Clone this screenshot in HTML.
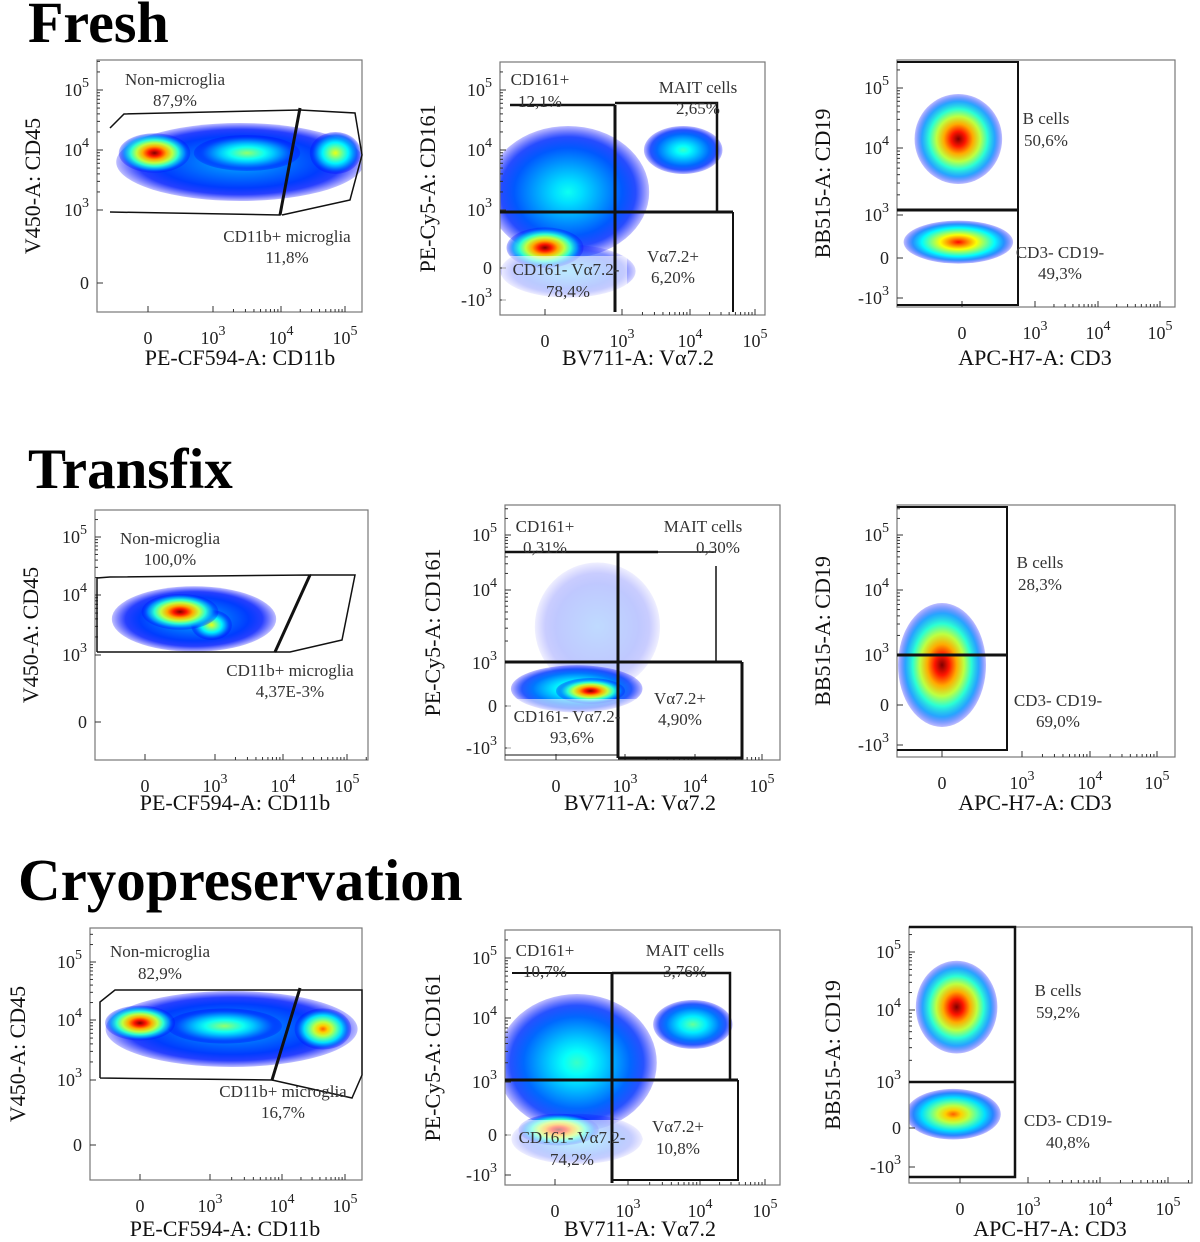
<!DOCTYPE html>
<html><head><meta charset="utf-8"><style>
html,body{margin:0;padding:0;background:#fff;}
svg{display:block;font-family:"Liberation Serif",serif;}
</style></head><body>
<svg id="fig" width="1200" height="1242" viewBox="0 0 1200 1242" xmlns="http://www.w3.org/2000/svg">
<defs id="defs"></defs>
<text x="28" y="42" font-size="58" font-weight="bold">Fresh</text>
<text x="28" y="488" font-size="57" font-weight="bold">Transfix</text>
<text x="18" y="900" font-size="59" font-weight="bold">Cryopreservation</text>
</svg>
<script>
// ---- population data (units: 0=0, 1=10^3, 2=10^4, 3=10^5, -1=-10^3) : [x, y, spreadX, spreadY, peakDensity, opacity]
const popsFresh1 = [[1.4,1.8,1.9,0.65,0.2,1],[1.5,1.95,0.8,0.3,0.45,1],[2.85,1.95,0.4,0.35,0.55,1],[0.1,1.95,0.55,0.33,1.0,1]];
const popsFresh2 = [[0.3,1.3,1.1,1.1,0.3,1],[1.9,2.0,0.6,0.4,0.35,1],[0.3,-0.1,0.9,0.5,0.2,0.6],[0.0,0.35,0.5,0.35,1.0,1]];
const popsFresh3 = [[-0.05,2.15,0.6,0.75,1.0,1],[-0.05,0.37,0.75,0.5,0.85,1]];
const popsTransfix1 = [[0.7,1.6,1.2,0.55,0.2,1],[0.95,1.5,0.3,0.25,0.55,1],[0.5,1.72,0.55,0.3,1.0,1]];
const popsTransfix2 = [[0.6,1.5,0.9,1.0,0.12,0.25],[0.3,0.4,0.95,0.55,0.4,1],[0.5,0.35,0.5,0.3,1.0,1]];
const popsTransfix3 = [[0.0,0.8,0.55,1.0,1.0,1]];
const popsCryo1 = [[1.3,1.85,1.9,0.65,0.2,1],[1.2,1.9,0.8,0.3,0.45,1],[2.65,1.85,0.45,0.35,0.75,1],[0.0,1.95,0.5,0.3,1.0,1]];
const popsCryo2 = [[0.3,1.3,1.1,1.1,0.35,1],[1.9,1.9,0.6,0.4,0.4,1],[0.3,-0.1,0.9,0.5,0.25,0.6],[0.05,0.1,0.55,0.3,1.0,1]];
const popsCryo3 = [[-0.05,2.05,0.6,0.8,1.0,1],[-0.1,0.3,0.7,0.55,0.75,1]];
// gate percentages
const pctFresh = ["87,9%","11,8%","12,1%","2,65%","78,4%","6,20%","50,6%","49,3%"];
const pctTransfix = ["100,0%","4,37E-3%","0,31%","0,30%","93,6%","4,90%","28,3%","69,0%"];
const pctCryo = ["82,9%","16,7%","10,7%","3,76%","74,2%","10,8%","59,2%","40,8%"];
const xTickLabels = ["0","10|3","10|4","10|5"];
const yTickLabels = ["-10|3","0","10|3","10|4","10|5"];

const NS="http://www.w3.org/2000/svg";
const svg=document.getElementById('fig');
const defs=document.getElementById('defs');
function el(tag,attrs,parent){const e=document.createElementNS(NS,tag);for(const k in attrs)e.setAttribute(k,attrs[k]);(parent||svg).appendChild(e);return e;}
function interp(px,v,start){
  const n=px.length;let i=Math.floor(v-start);if(i<0)i=0;if(i>n-2)i=n-2;
  return px[i]+(v-start-i)*(px[i+1]-px[i]);}
function jet(t){t=0.125+0.875*t;const c=x=>Math.round(255*Math.max(0,Math.min(1,1.5-Math.abs(x))));return `rgb(${c(4*t-3)},${c(4*t-2)},${c(4*t-1)})`;}
let gid=0;

const panels=[
 {box:[97,60,362,312],xt:[148,213,281,345],yt:[null,283,210,150,90],pops:popsFresh1,type:1,pct:pctFresh,ytx:40,xtc:240,xty:365,
  gates:[{pts:"110,128 124,114 300,110 280,215 110,212",w:1.5},{pts:"300,110 355,113 362,155 350,200 282,215",w:1.5},{pts:"300,108 280,215",w:3}],
  lab:[[175,85],[175,106],[287,242],[287,263]]},
 {box:[500,62,765,315],xt:[545,622,690,755],yt:[300,268,210,150,90],pops:popsFresh2,type:2,pct:pctFresh,ytx:435,xtc:638,xty:365,
  gates:[{pts:"615,105 615,312",w:3},{pts:"500,212 733,212",w:3},{pts:"510,105 615,105",w:2.5},{pts:"615,103 717,103 717,212",w:2.5},{pts:"733,212 733,312",w:2}],
  lab:[[540,85],[540,107],[698,93],[698,114],[566,275],[568,297],[673,262],[673,283]],bgl:[502,256,125,48]},
 {box:[897,60,1175,307],xt:[962,1035,1098,1160],yt:[298,258,215,148,88],pops:popsFresh3,type:3,pct:pctFresh,ytx:830,xtc:1035,xty:365,
  gates:[{pts:"897,62 1018,62 1018,305 897,305",w:2},{pts:"897,210 1018,210",w:3}],
  lab:[[1046,124],[1046,146],[1060,258],[1060,279]]},
 {box:[95,510,368,760],xt:[145,215,283,347],yt:[null,722,655,595,537],pops:popsTransfix1,type:1,pct:pctTransfix,ytx:38,xtc:235,xty:810,
  gates:[{pts:"97,652 97,578 110,577 310,575 275,652 97,652",w:1.5},{pts:"310,575 355,575 342,640 290,652 275,652",w:1.5},{pts:"310,575 275,652",w:3}],
  lab:[[170,544],[170,565],[290,676],[290,697]]},
 {box:[505,505,780,760],xt:[556,625,695,762],yt:[748,706,663,590,535],pops:popsTransfix2,type:2,pct:pctTransfix,ytx:440,xtc:640,xty:810,
  gates:[{pts:"618,552 618,758",w:3},{pts:"505,662 742,662",w:3},{pts:"505,552 658,552",w:2.5},{pts:"618,552 716,552",w:1.5},{pts:"716,566 716,662",w:1.5},{pts:"742,662 742,758 618,758",w:3},{pts:"505,755 618,755",w:1}],
  lab:[[545,532],[545,553],[703,532],[718,553],[567,722],[572,743],[680,704],[680,725]],bgl:[507,699,140,52]},
 {box:[897,505,1175,757],xt:[942,1022,1090,1157],yt:[745,705,655,590,535],pops:popsTransfix3,type:3,pct:pctTransfix,ytx:830,xtc:1035,xty:810,
  gates:[{pts:"897,507 1007,507 1007,750 897,750",w:2},{pts:"897,655 1007,655",w:3}],
  lab:[[1040,568],[1040,590],[1058,706],[1058,727]]},
 {box:[90,928,362,1180],xt:[140,210,282,345],yt:[null,1145,1080,1020,962],pops:popsCryo1,type:1,pct:pctCryo,ytx:25,xtc:225,xty:1236,
  gates:[{pts:"100,1078 100,1002 115,990 300,990 272,1080 100,1078",w:1.5},{pts:"300,990 362,990 362,1075 352,1098 272,1080",w:1.5},{pts:"300,988 272,1080",w:3}],
  lab:[[160,957],[160,979],[283,1097],[283,1118]]},
 {box:[505,930,780,1185],xt:[555,628,700,765],yt:[1175,1135,1082,1018,958],pops:popsCryo2,type:2,pct:pctCryo,ytx:440,xtc:640,xty:1236,
  gates:[{pts:"612,973 612,1183",w:3},{pts:"505,1080 738,1080",w:3},{pts:"512,973 612,973",w:2},{pts:"612,973 730,973 730,1080",w:2.5},{pts:"738,1080 738,1180 612,1180",w:2}],
  lab:[[545,956],[545,977],[685,956],[685,977],[572,1143],[572,1165],[678,1132],[678,1154]],bgl:[507,1120,135,50]},
 {box:[909,927,1192,1183],xt:[960,1028,1100,1168],yt:[1167,1128,1082,1010,952],pops:popsCryo3,type:3,pct:pctCryo,ytx:840,xtc:1050,xty:1236,
  gates:[{pts:"909,927 1015,927 1015,1177 909,1177",w:2.5},{pts:"909,1082 1015,1082",w:2.5}],
  lab:[[1058,996],[1058,1018],[1068,1126],[1068,1148]]}
];
const titles={1:["V450-A: CD45","PE-CF594-A: CD11b"],2:["PE-Cy5-A: CD161","BV711-A: V\u03b17.2"],3:["BB515-A: CD19","APC-H7-A: CD3"]};
const names={1:["Non-microglia",null,"CD11b+ microglia",null],2:["CD161+",null,"MAIT cells",null,"CD161- V\u03b17.2-",null,"V\u03b17.2+",null],3:["B cells",null,"CD3- CD19-",null]};

function tickText(g,str,x,y,anchor){
  const t=el('text',{x:x,y:y,'font-size':18,'text-anchor':anchor,fill:'#222'},g);
  const [b,s]=str.split('|');t.appendChild(document.createTextNode(b));
  if(s){const ts=el('tspan',{dy:-9,'font-size':14},t);ts.textContent=s;}
  return t;}

panels.forEach((p,pi)=>{
  const g=el('g',{});
  
  
  const [x0,y0,x1,y1]=p.box;
  const clip=el('clipPath',{id:'c'+pi},defs);el('rect',{x:x0,y:y0,width:x1-x0,height:y1-y0},clip);
  const yStart=p.yt[0]===null?0:-1;const ypx=p.yt[0]===null?p.yt.slice(1):p.yt;
  const X=v=>interp(p.xt,v,0), Y=v=>interp(ypx,v,yStart);
  const pg=el('g',{'clip-path':`url(#c${pi})`},g);
  p.pops.forEach(d=>{
    const [u,v,rx,ry,pk,op]=d;const id='gr'+(gid++);
    const gr=el('radialGradient',{id:id},defs);
    const ops=[1,1,1,1,1,0.85,0.25];
    for(let k=0;k<=6;k++){const f=k/6;el('stop',{offset:f,'stop-color':jet(pk*(1-f)),'stop-opacity':ops[k]},gr);}
    const cx=X(u),cy=Y(v);
    const e=el('ellipse',{cx:cx,cy:cy,rx:Math.abs(X(u+rx)-cx),ry:Math.abs(cy-Y(v+ry)),fill:`url(#${id})`,opacity:op},pg);
    
    
  });
  el('rect',{x:x0,y:y0,width:x1-x0,height:y1-y0,fill:'none',stroke:'#777','stroke-width':1.2},g);
  const tg=el('g',{stroke:'#333','stroke-width':1},g);
  p.xt.forEach((px,i)=>{el('line',{x1:px,y1:y1,x2:px,y2:y1-6},tg);
    if(i>0)for(let k=2;k<10;k++){const mx=interp(p.xt,i+Math.log10(k),0);if(mx<x1)el('line',{x1:mx,y1:y1,x2:mx,y2:y1-3},tg);}});
  ypx.forEach((py,i)=>{el('line',{x1:x0,y1:py,x2:x0+6,y2:py},tg);
    if(i+yStart>0)for(let k=2;k<10;k++){const my=interp(ypx,i+yStart+Math.log10(k),yStart);if(my>y0)el('line',{x1:x0,y1:my,x2:x0+3,y2:my},tg);}});
  p.xt.forEach((px,i)=>{const t=tickText(g,xTickLabels[i],px,y1+32,'middle');
    });
  ypx.forEach((py,i)=>{const t=tickText(g,yTickLabels[i+yStart+1],x0-8,py+6,'end');
    });
  if(p.bgl){el('rect',{x:p.bgl[0],y:p.bgl[1],width:p.bgl[2],height:p.bgl[3],fill:'#fff',opacity:0.55},g);}
  p.gates.forEach(gt=>{const l=el('polyline',{points:gt.pts,fill:'none',stroke:'#111','stroke-width':gt.w},g);
    });
  const nm=names[p.type];
  p.lab.forEach((lp,i)=>{
    const txt=nm[i]!==null?nm[i]:p.pct[(p.type===1?0:p.type===2?2:6)+Math.floor(i/2)];
    const t=el('text',{x:lp[0],y:lp[1],'font-size':17,'text-anchor':'middle',fill:'#333'},g);
    t.textContent=txt;
    
    
  });
  const cy=(y0+y1)/2;
  const yt=el('text',{x:p.ytx,y:cy,'font-size':22,'text-anchor':'middle',transform:`rotate(-90 ${p.ytx} ${cy})`,fill:'#111'},g);
  yt.textContent=titles[p.type][0];
  
  
  const xt=el('text',{x:p.xtc,y:p.xty,'font-size':22,'text-anchor':'middle',fill:'#111'},g);
  xt.textContent=titles[p.type][1];
  
  
});
</script>
</body></html>
